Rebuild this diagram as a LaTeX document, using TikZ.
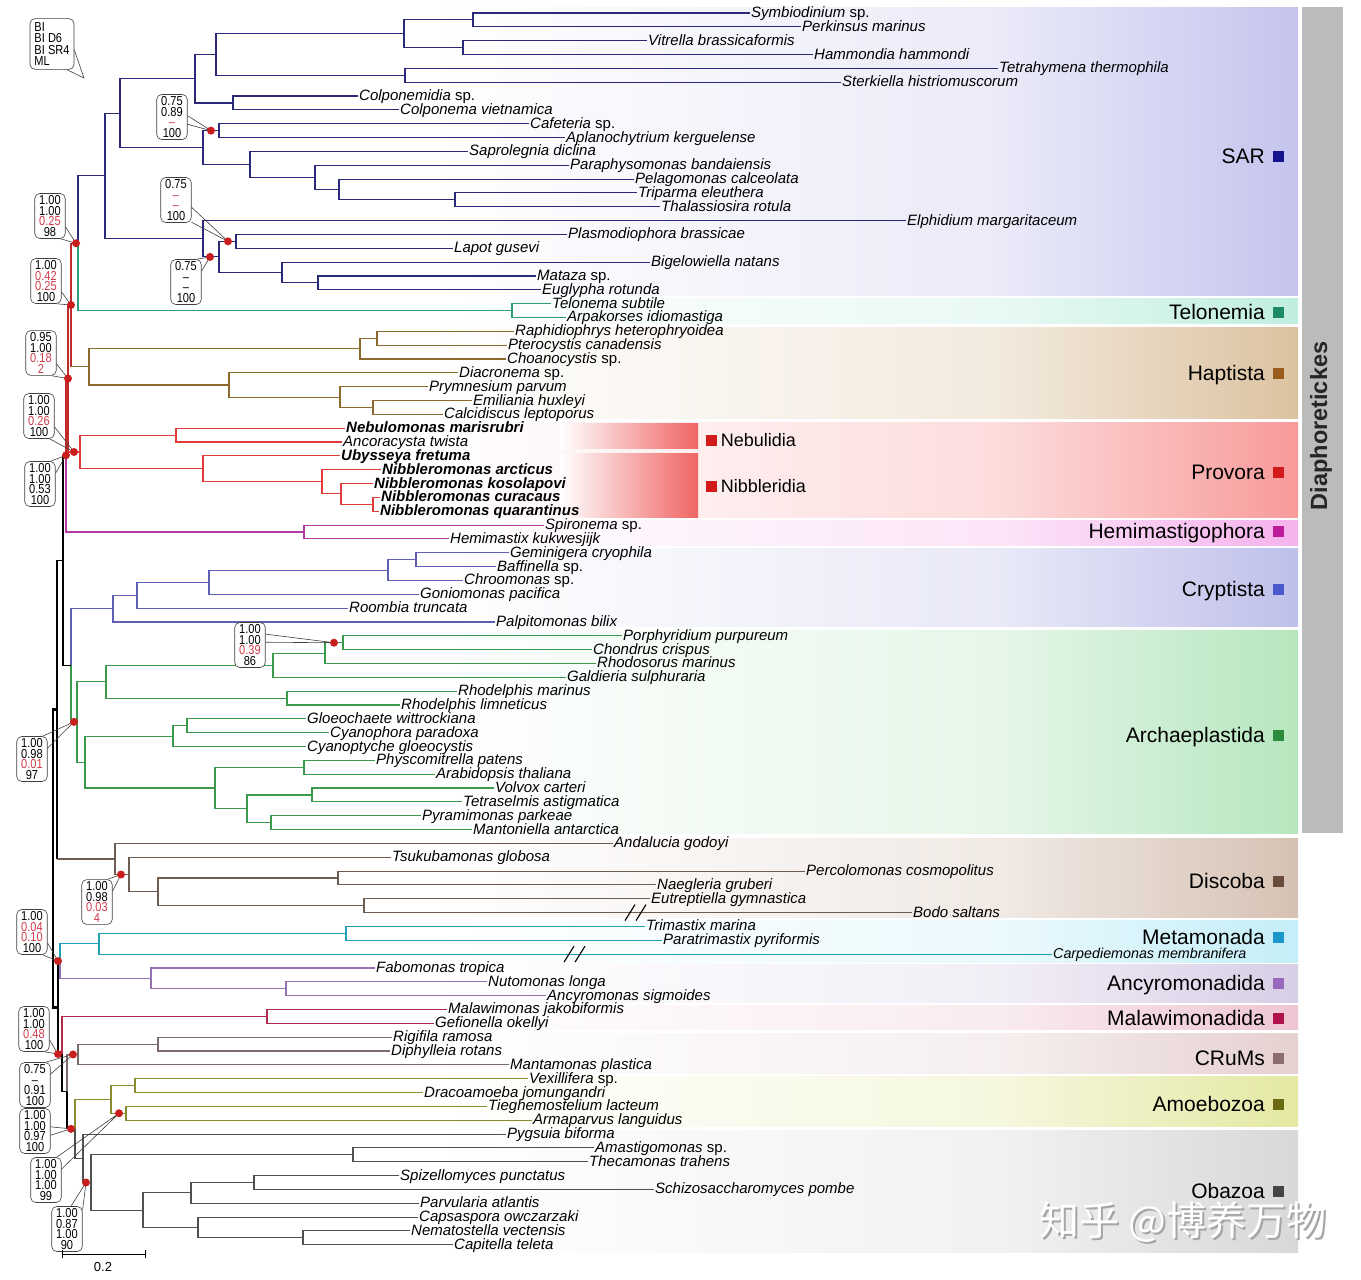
\documentclass[tikz,border=0pt]{standalone}
\usepackage{fontspec}
\setmainfont{Liberation Sans}
\newfontfamily\suppfont[FakeStretch=0.85]{Liberation Sans}
\newfontfamily\cjkfont{Noto Sans CJK SC}
\usetikzlibrary{calc,positioning}

% branch colours
\definecolor{sarc}{HTML}{2A2A78}
\definecolor{telc}{HTML}{2E9C7E}
\definecolor{hapc}{HTML}{8C6A2E}
\definecolor{prvc}{HTML}{E23B3B}
\definecolor{hemc}{HTML}{B23AA2}
\definecolor{cryc}{HTML}{5E5EB4}
\definecolor{arcc}{HTML}{3C9A4C}
\definecolor{dscc}{HTML}{6E5C50}
\definecolor{metc}{HTML}{22A0B8}
\definecolor{ancc}{HTML}{9272B2}
\definecolor{malc}{HTML}{B02A4C}
\definecolor{cruc}{HTML}{7C6A6A}
\definecolor{amoc}{HTML}{8A8A2E}
\definecolor{obac}{HTML}{505050}
\definecolor{spinec}{HTML}{C02A2A}
% band colours
\definecolor{sarb}{HTML}{C4C4EE}
\definecolor{telb}{HTML}{BFEEDF}
\definecolor{hapb}{HTML}{DCC2A0}
\definecolor{prvb}{HTML}{F89A9A}
\definecolor{hemb}{HTML}{F5B2EC}
\definecolor{cryb}{HTML}{BFC0EA}
\definecolor{arcb}{HTML}{B6E6BE}
\definecolor{dscb}{HTML}{D6C2B4}
\definecolor{metb}{HTML}{C4EEF8}
\definecolor{ancb}{HTML}{D8CEE6}
\definecolor{malb}{HTML}{EEC6D2}
\definecolor{crub}{HTML}{E6D0D0}
\definecolor{amob}{HTML}{E4E8A2}
\definecolor{obab}{HTML}{D8D8D8}
\definecolor{nebb}{HTML}{F06464}
\definecolor{barc}{HTML}{BBBBBB}
% square colours
\definecolor{sarsq}{HTML}{14148C}
\definecolor{telsq}{HTML}{1E8A68}
\definecolor{hapsq}{HTML}{9A5C1C}
\definecolor{prvsq}{HTML}{D21A1A}
\definecolor{hemsq}{HTML}{BE1A9C}
\definecolor{crysq}{HTML}{4A58CE}
\definecolor{arcsq}{HTML}{2C8A3C}
\definecolor{dscsq}{HTML}{6A4C3C}
\definecolor{metsq}{HTML}{1A98CC}
\definecolor{ancsq}{HTML}{9868BE}
\definecolor{malsq}{HTML}{B0124C}
\definecolor{crusq}{HTML}{8C6C6C}
\definecolor{amosq}{HTML}{6A6A12}
\definecolor{obasq}{HTML}{444444}
\definecolor{dotc}{HTML}{C81E1E}
\definecolor{supred}{HTML}{D23C4B}

\newcommand{\cnode}[4]{\path let \p1=($(#3)!.5!(#4)$) in (#2pt,\y1) coordinate (#1);}
\newcommand{\clade}[5][black]{\cnode{#2}{#3}{#4}{#5}\draw[branch,#1] (#4) -| (#2) |- (#5);}
\newcommand{\leaf}[4]{\coordinate (#1) at (#2,{13+13.84*(#3-1)}); \node[taxon] (#1-t) at (#1) {#4};}
\newcommand{\rd}[1]{\textcolor{supred}{#1}}
\newcommand{\support}[7]{\node[supp] (#1) at (#2,#3) {#4}; \draw[tail] (#1.#5) -- (#7) -- (#1.#6);}
\newcommand{\band}[3]{\shade[left color=white,right color=#3!35!white] (430,#1) rectangle (1000,#2);
  \shade[left color=#3!35!white,right color=#3] (1000,#1) rectangle (1298,#2);}
\newcommand{\grouplab}[3]{\node[grouplabel] (lab-#1) at (1265,#2) {#1}; \node[groupsq,fill=#3,right=8pt of lab-#1] (sq-#1) {};}

\begin{document}
\begin{tikzpicture}[x=1pt, y=-1pt,
  branch/.style={line width=1.1pt},
  spine/.style={line width=2.4pt, spinec},
  taxon/.style={anchor=west, inner sep=1pt, font=\fontsize{15}{16}\selectfont\itshape, text height=10pt, text depth=1pt},
  supp/.style={draw=black!75, line width=0.6pt, rounded corners=5pt, fill=white, inner xsep=4.5pt, inner ysep=2pt, align=center, font=\suppfont\fontsize{13}{10.6}\selectfont},
  legendbox/.style={supp, align=left, inner ysep=3.5pt, font=\suppfont\fontsize{13}{11.6}\selectfont},
  tail/.style={draw=black!75, line width=0.6pt},
  supdot/.style={fill=dotc},
  grouplabel/.style={anchor=east, inner sep=0pt, font=\fontsize{21}{21}\selectfont, text height=15pt, text depth=0pt},
  groupsq/.style={minimum size=11pt, inner sep=0pt},
  sublabel/.style={font=\fontsize{18}{18}\selectfont, inner sep=0pt, text height=13pt, text depth=0pt},
  brk/.style={line width=1.1pt}]
  \fill[white] (0,0) rectangle (1361,1280);
  \useasboundingbox (0,0) rectangle (1361,1280);

  % Bands
  \band{7}{295}{sarb}
  \band{298}{323}{telb}
  \band{327}{418}{hapb}
  \band{422}{517}{prvb}
  \band{520}{545}{hemb}
  \band{548}{626}{cryb}
  \band{630}{833}{arcb}
  \band{838}{917}{dscb}
  \band{920}{962}{metb}
  \band{964}{1002}{ancb}
  \band{1005}{1029}{malb}
  \band{1033}{1073}{crub}
  \band{1076}{1126}{amob}
  \band{1130}{1252}{obab}
  \shade[left color=white,right color=nebb] (560,423) rectangle (698,448);
  \shade[left color=white,right color=nebb] (560,453) rectangle (698,517);
  \fill[barc] (1302,7) rectangle (1343,833);

  % Leaves
  \leaf{symb}{750}{1}{Symbiodinium \textup{sp.}}
  \leaf{perk}{801}{2}{Perkinsus marinus}
  \leaf{vitr}{647}{3}{Vitrella brassicaformis}
  \leaf{hamm}{813}{4}{Hammondia hammondi}
  \leaf{tetr}{998}{5}{Tetrahymena thermophila}
  \leaf{ster}{841}{6}{Sterkiella histriomuscorum}
  \leaf{colp}{358}{7}{Colponemidia \textup{sp.}}
  \leaf{colv}{399}{8}{Colponema vietnamica}
  \leaf{cafe}{529}{9}{Cafeteria \textup{sp.}}
  \leaf{apla}{565}{10}{Aplanochytrium kerguelense}
  \leaf{sapr}{468}{11}{Saprolegnia diclina}
  \leaf{para}{569}{12}{Paraphysomonas bandaiensis}
  \leaf{pela}{634}{13}{Pelagomonas calceolata}
  \leaf{trip}{637}{14}{Triparma eleuthera}
  \leaf{thal}{660}{15}{Thalassiosira rotula}
  \leaf{elph}{906}{16}{Elphidium margaritaceum}
  \leaf{plas}{567}{17}{Plasmodiophora brassicae}
  \leaf{lapo}{453}{18}{Lapot gusevi}
  \leaf{bige}{650}{19}{Bigelowiella natans}
  \leaf{mata}{536}{20}{Mataza \textup{sp.}}
  \leaf{eugl}{541}{21}{Euglypha rotunda}
  \leaf{telo}{551}{22}{Telonema subtile}
  \leaf{arpa}{566}{23}{Arpakorses idiomastiga}
  \leaf{raph}{514}{24}{Raphidiophrys heterophryoidea}
  \leaf{pter}{507}{25}{Pterocystis canadensis}
  \leaf{choa}{506}{26}{Choanocystis \textup{sp.}}
  \leaf{diac}{458}{27}{Diacronema \textup{sp.}}
  \leaf{prym}{428}{28}{Prymnesium parvum}
  \leaf{emil}{472}{29}{Emiliania huxleyi}
  \leaf{calci}{443}{30}{Calcidiscus leptoporus}
  \leaf{nebu}{345}{31}{\textbf{Nebulomonas marisrubri}}
  \leaf{anco}{342}{32}{Ancoracysta twista}
  \leaf{ubys}{340}{33}{\textbf{Ubysseya fretuma}}
  \leaf{narc}{381}{34}{\textbf{Nibbleromonas arcticus}}
  \leaf{nkos}{373}{35}{\textbf{Nibbleromonas kosolapovi}}
  \leaf{ncur}{380}{36}{\textbf{Nibbleromonas curacaus}}
  \leaf{nqua}{379}{37}{\textbf{Nibbleromonas quarantinus}}
  \leaf{spir}{544}{38}{Spironema \textup{sp.}}
  \leaf{hkuk}{449}{39}{Hemimastix kukwesjijk}
  \leaf{gemi}{509}{40}{Geminigera cryophila}
  \leaf{baff}{496}{41}{Baffinella \textup{sp.}}
  \leaf{chro}{463}{42}{Chroomonas \textup{sp.}}
  \leaf{goni}{419}{43}{Goniomonas pacifica}
  \leaf{room}{348}{44}{Roombia truncata}
  \leaf{palp}{495}{45}{Palpitomonas bilix}
  \leaf{porp}{622}{46}{Porphyridium purpureum}
  \leaf{chon}{592}{47}{Chondrus crispus}
  \leaf{rhos}{596}{48}{Rhodosorus marinus}
  \leaf{gald}{566}{49}{Galdieria sulphuraria}
  \leaf{rhma}{457}{50}{Rhodelphis marinus}
  \leaf{rhli}{400}{51}{Rhodelphis limneticus}
  \leaf{gloe}{306}{52}{Gloeochaete wittrockiana}
  \leaf{cyan}{329}{53}{Cyanophora paradoxa}
  \leaf{cypt}{306}{54}{Cyanoptyche gloeocystis}
  \leaf{phys}{375}{55}{Physcomitrella patens}
  \leaf{arab}{435}{56}{Arabidopsis thaliana}
  \leaf{volv}{494}{57}{Volvox carteri}
  \leaf{tets}{462}{58}{Tetraselmis astigmatica}
  \leaf{pyra}{421}{59}{Pyramimonas parkeae}
  \leaf{mant}{472}{60}{Mantoniella antarctica}
  \leaf{anda}{613}{61}{Andalucia godoyi}
  \leaf{tsuk}{391}{62}{Tsukubamonas globosa}
  \leaf{perc}{805}{63}{Percolomonas cosmopolitus}
  \leaf{naeg}{656}{64}{Naegleria gruberi}
  \leaf{eutr}{650}{65}{Eutreptiella gymnastica}
  \leaf{bodo}{912}{66}{Bodo saltans}
  \leaf{trim}{645}{67}{Trimastix marina}
  \leaf{ptri}{662}{68}{Paratrimastix pyriformis}
  \leaf{carp}{1052}{69}{\fontsize{14.3}{15}\selectfont Carpediemonas membranifera}
  \leaf{fabo}{375}{70}{Fabomonas tropica}
  \leaf{nuto}{487}{71}{Nutomonas longa}
  \leaf{ancy}{546}{72}{Ancyromonas sigmoides}
  \leaf{mala}{447}{73}{Malawimonas jakobiformis}
  \leaf{gefi}{434}{74}{Gefionella okellyi}
  \leaf{rigi}{392}{75}{Rigifila ramosa}
  \leaf{diph}{390}{76}{Diphylleia rotans}
  \leaf{mana}{509}{77}{Mantamonas plastica}
  \leaf{vexi}{528}{78}{Vexillifera \textup{sp.}}
  \leaf{drac}{423}{79}{Dracoamoeba jomungandri}
  \leaf{tieg}{487}{80}{Tieghemostelium lacteum}
  \leaf{arma}{532}{81}{Armaparvus languidus}
  \leaf{pygs}{506}{82}{Pygsuia biforma}
  \leaf{amas}{594}{83}{Amastigomonas \textup{sp.}}
  \leaf{thec}{588}{84}{Thecamonas trahens}
  \leaf{spiz}{399}{85}{Spizellomyces punctatus}
  \leaf{schi}{654}{86}{Schizosaccharomyces pombe}
  \leaf{parv}{419}{87}{Parvularia atlantis}
  \leaf{caps}{418}{88}{Capsaspora owczarzaki}
  \leaf{nema}{410}{89}{Nematostella vectensis}
  \leaf{capi}{453}{90}{Capitella teleta}

  % SAR
  \clade[sarc]{sA}{473}{symb}{perk}
  \clade[sarc]{sB}{463}{vitr}{hamm}
  \clade[sarc]{sC}{404}{sA}{sB}
  \clade[sarc]{sD}{405}{tetr}{ster}
  \clade[sarc]{sE}{216}{sC}{sD}
  \clade[sarc]{sF}{233}{colp}{colv}
  \clade[sarc]{sG}{195}{sE}{sF}
  \clade[sarc]{sJ}{219}{cafe}{apla}
  \clade[sarc]{sN}{455}{trip}{thal}
  \clade[sarc]{sM}{339}{pela}{sN}
  \clade[sarc]{sL}{315}{para}{sM}
  \clade[sarc]{sK}{250}{sapr}{sL}
  \clade[sarc]{sI}{203}{sJ}{sK}
  \clade[sarc]{sH}{120}{sG}{sI}
  \clade[sarc]{sR}{236}{plas}{lapo}
  \clade[sarc]{sT}{318}{mata}{eugl}
  \clade[sarc]{sS}{282}{bige}{sT}
  \clade[sarc]{sQ}{219}{sR}{sS}
  \clade[sarc]{sP}{203}{elph}{sQ}
  \clade[sarc]{SAR}{105}{sH}{sP}
  % Telonemia
  \clade[telc]{Tel}{512}{telo}{arpa}
  % Haptista
  \clade[hapc]{hA}{377}{raph}{pter}
  \clade[hapc]{hB}{360}{hA}{choa}
  \clade[hapc]{hE}{373}{emil}{calci}
  \clade[hapc]{hD}{340}{prym}{hE}
  \clade[hapc]{hC}{229}{diac}{hD}
  \clade[hapc]{Hap}{89}{hB}{hC}
  % Provora
  \clade[prvc]{pN}{176}{nebu}{anco}
  \clade[prvc]{pD}{373}{ncur}{nqua}
  \clade[prvc]{pC}{341}{nkos}{pD}
  \clade[prvc]{pB}{322}{narc}{pC}
  \clade[prvc]{pA}{203}{ubys}{pB}
  \clade[prvc]{Prov}{80}{pN}{pA}
  % Hemimastigophora
  \clade[hemc]{Hemi}{304}{spir}{hkuk}
  % Cryptista
  \clade[cryc]{cA}{416}{gemi}{baff}
  \clade[cryc]{cB}{388}{cA}{chro}
  \clade[cryc]{cC}{209}{cB}{goni}
  \clade[cryc]{cD}{137}{cC}{room}
  \clade[cryc]{Cryp}{113}{cD}{palp}
  % Archaeplastida
  \clade[arcc]{aA}{343}{porp}{chon}
  \clade[arcc]{aB}{325}{aA}{rhos}
  \clade[arcc]{aC}{273}{aB}{gald}
  \clade[arcc]{aD}{287}{rhma}{rhli}
  \clade[arcc]{aE}{106}{aC}{aD}
  \clade[arcc]{aF}{187}{gloe}{cyan}
  \clade[arcc]{aG}{173}{aF}{cypt}
  \clade[arcc]{aH}{304}{phys}{arab}
  \clade[arcc]{aI}{312}{volv}{tets}
  \clade[arcc]{aJ}{271}{pyra}{mant}
  \clade[arcc]{aK}{247}{aI}{aJ}
  \clade[arcc]{aL}{215}{aH}{aK}
  \clade[arcc]{aM}{85}{aG}{aL}
  \clade[arcc]{Arch}{77}{aE}{aM}
  % Discoba
  \clade[dscc]{dA}{338}{perc}{naeg}
  \clade[dscc]{dB}{364}{eutr}{bodo}
  \clade[dscc]{dC}{158}{dA}{dB}
  \clade[dscc]{dD}{129}{tsuk}{dC}
  \clade[dscc]{Disc}{115}{anda}{dD}
  % Metamonada
  \clade[metc]{mA}{346}{trim}{ptri}
  \clade[metc]{Meta}{99}{mA}{carp}
  % Ancyromonadida
  \clade[ancc]{nA}{286}{nuto}{ancy}
  \clade[ancc]{Ancy}{151}{fabo}{nA}
  % Malawimonadida
  \clade[malc]{Malw}{267}{mala}{gefi}
  % CRuMs
  \clade[cruc]{uA}{158}{rigi}{diph}
  \clade[cruc]{CRuM}{78}{uA}{mana}
  % Amoebozoa
  \clade[amoc]{mB}{135}{vexi}{drac}
  \clade[amoc]{mC}{126}{tieg}{arma}
  \clade[amoc]{Amoe}{111}{mB}{mC}
  % Obazoa
  \clade[obac]{oA}{353}{amas}{thec}
  \clade[obac]{oB}{254}{spiz}{schi}
  \clade[obac]{oC}{191}{oB}{parv}
  \clade[obac]{oD}{303}{nema}{capi}
  \clade[obac]{oE}{198}{caps}{oD}
  \clade[obac]{oF}{143}{oC}{oE}
  \clade[obac]{oG}{91}{oA}{oF}
  \clade[obac]{Obaz}{83}{pygs}{oG}

  % Backbone, upper part
  \cnode{V}{78}{SAR}{Tel}
  \draw[branch,sarc] (V) |- (SAR);
  \draw[branch,telc] (V) |- (Tel);
  \cnode{W}{71}{V}{Hap}
  \draw[spine] (W|-V) -- (W|-Hap);
  \draw[branch,sarc] (W|-V) -- (V);
  \draw[branch,hapc] (W|-Hap) -- (Hap);
  \cnode{Y}{68}{W}{Prov}
  \draw[spine] (Y|-W) -- (Y|-Prov);
  \draw[branch,spinec] (Y|-W) -- (W);
  \draw[branch,prvc] (Y|-Prov) -- (Prov);
  \cnode{YY}{66}{Y}{Hemi}
  \draw[spine] (YY|-Y) -- (YY);
  \draw[branch,hemc,line width=1.8pt] (YY) -- (YY|-Hemi) -- (Hemi);
  \cnode{CA}{71}{Cryp}{Arch}
  \draw[branch,cryc] (CA) |- (Cryp);
  \draw[branch,arcc] (CA) |- (Arch);
  \cnode{AH}{63}{YY}{CA}
  \draw[branch] (YY) -| (AH) |- (CA);
  \cnode{AI}{57}{AH}{Disc}
  \draw[branch] (AH) -| (AI) |- (AI|-Disc);
  \draw[branch,dscc] (AI|-Disc) -- (Disc);

  % Backbone, lower part
  \cnode{AJ}{60}{Meta}{Ancy}
  \draw[branch,metc] (AJ) |- (Meta);
  \draw[branch,ancc] (AJ) |- (Ancy);
  \cnode{AO}{75}{Amoe}{Obaz}
  \draw[branch,amoc] (AO) |- (Amoe);
  \draw[branch,obac] (AO) |- (Obaz);
  \cnode{AN}{67}{CRuM}{AO}
  \draw[branch,cruc] (AN) |- (CRuM);
  \draw[branch] (AN) |- (AO);
  \cnode{AM}{62}{Malw}{AN}
  \draw[branch,malc] (AM) |- (Malw);
  \draw[branch] (AM) |- (AN);
  \cnode{AL}{58}{AJ}{AM}
  \draw[branch] (AJ) -| (AL) |- (AM);
  \cnode{root}{53}{AI}{AL}
  \draw[branch,line width=2.4pt] (AI) -| (root) |- (AL);

  % Long branches cut short
  \foreach \s in {-282,-271} \draw[brk] ([xshift=\s pt]bodo) ++(-5,8) -- ++(10,-16);
  \foreach \s in {-483,-472} \draw[brk] ([xshift=\s pt]carp) ++(-5,8) -- ++(10,-16);

  % Support values
  \coordinate (d1) at ([xshift=-8pt]sJ);
  \coordinate (d2) at ([xshift=-8pt]sR);
  \coordinate (d3) at ([xshift=-9pt]sQ);
  \coordinate (d4) at ([xshift=-2pt]V);
  \coordinate (d5) at (W);
  \coordinate (d6) at (Y);
  \coordinate (d7) at ([xshift=-6pt]Prov);
  \coordinate (d8) at (YY);
  \coordinate (d9) at ([xshift=-9pt]aA);
  \coordinate (d10) at ([xshift=-3pt]Arch);
  \coordinate (d11) at ([xshift=-8pt]dD);
  \coordinate (d12) at ([xshift=-2pt]AJ);
  \coordinate (d13) at ([xshift=-4pt]AM);
  \coordinate (d14) at ([xshift=-5pt]CRuM);
  \coordinate (d15) at ([xshift=-4pt]AO);
  \coordinate (d16) at ([xshift=-7pt]mC);
  \coordinate (d17) at ([xshift=-5pt]oG);

  \support{s1}{172}{117}{0.75\\0.89\\\rd{–}\\100}{5}{-25}{d1}
  \support{s2}{176}{200}{0.75\\\rd{–}\\\rd{–}\\100}{-25}{-55}{d2}
  \support{s3}{186}{282}{0.75\\–\\–\\100}{65}{35}{d3}
  \support{s4}{50}{216}{1.00\\1.00\\\rd{0.25}\\98}{-35}{-65}{d4}
  \support{s5}{46}{281}{1.00\\\rd{0.42}\\\rd{0.25}\\100}{-35}{-65}{d5}
  \support{s6}{41}{353}{0.95\\1.00\\\rd{0.18}\\\rd{2}}{-35}{-65}{d6}
  \support{s7}{39}{416}{1.00\\1.00\\\rd{0.26}\\100}{-35}{-65}{d7}
  \support{s8}{40}{484}{1.00\\1.00\\0.53\\100}{65}{35}{d8}
  \support{s9}{250}{645}{1.00\\1.00\\\rd{0.39}\\86}{35}{10}{d9}
  \support{s10}{32}{759}{1.00\\0.98\\\rd{0.01}\\97}{65}{35}{d10}
  \support{s11}{97}{902}{1.00\\0.98\\\rd{0.03}\\\rd{4}}{65}{35}{d11}
  \support{s12}{32}{932}{1.00\\\rd{0.04}\\\rd{0.10}\\100}{-35}{-65}{d12}
  \support{s13}{34}{1029}{1.00\\1.00\\\rd{0.48}\\100}{-35}{-65}{d13}
  \support{s14}{35}{1085}{0.75\\–\\0.91\\100}{65}{35}{d14}
  \support{s15}{35}{1131}{1.00\\1.00\\0.97\\100}{15}{-15}{d15}
  \support{s16}{46}{1180}{1.00\\1.00\\1.00\\99}{65}{35}{d16}
  \support{s17}{67}{1229}{1.00\\0.87\\1.00\\90}{80}{50}{d17}
  \foreach \i in {1,...,17} \fill[supdot] (d\i) circle (4pt);

  % Legend
  \node[legendbox] (legend) at (52,44) {BI\\BI D6\\BI SR4\\ML};
  \coordinate (legtip) at (84,78);
  \draw[tail] (legend.-15) -- (legtip) -- (legend.-60);

  % Group labels
  \grouplab{SAR}{156}{sarsq}
  \grouplab{Telonemia}{312}{telsq}
  \grouplab{Haptista}{373}{hapsq}
  \grouplab{Provora}{472}{prvsq}
  \grouplab{Hemimastigophora}{531}{hemsq}
  \grouplab{Cryptista}{589}{crysq}
  \grouplab{Archaeplastida}{735}{arcsq}
  \grouplab{Discoba}{881}{dscsq}
  \grouplab{Metamonada}{937}{metsq}
  \grouplab{Ancyromonadida}{983}{ancsq}
  \grouplab{Malawimonadida}{1018}{malsq}
  \grouplab{CRuMs}{1058}{crusq}
  \grouplab{Amoebozoa}{1104}{amosq}
  \grouplab{Obazoa}{1191}{obasq}
  \node[groupsq,fill=prvsq] (sq-neb) at (711,440) {};
  \node[sublabel,right=4pt of sq-neb] (lab-neb) {Nebulidia};
  \node[groupsq,fill=prvsq] (sq-nib) at (711,486) {};
  \node[sublabel,right=4pt of sq-nib] (lab-nib) {Nibbleridia};
  \node[rotate=90,font=\bfseries\fontsize{23.5}{24}\selectfont,text=black!85] (diaph) at (1321,426) {Diaphoretickes};

  % Scale bar
  \coordinate (sb1) at (62,1254);
  \coordinate (sb2) at (145,1254);
  \draw[line width=1pt] (sb1) -- (sb2) (sb1) ++(0,-4) -- ++(0,8) (sb2) ++(0,-4) -- ++(0,8);
  \node[font=\fontsize{13}{13}\selectfont] (sbl) at (103,1267) {0.2};

  % Watermark
  \node[font=\cjkfont\fontsize{40}{40}\selectfont,text=black!35] (wm-s) at (1185,1224) {知乎 @博养万物};
  \node[font=\cjkfont\fontsize{40}{40}\selectfont,text=white] (wm) at (1183,1222) {知乎 @博养万物};
\end{tikzpicture}
\end{document}
